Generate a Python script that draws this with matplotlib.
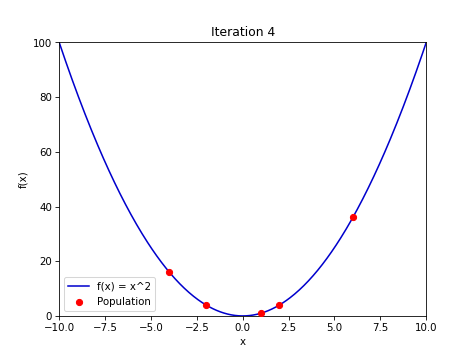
import matplotlib
matplotlib.use('Agg')
import matplotlib.pyplot as plt
import numpy as np

# population at iteration 4
pop_x = [-4, -2, 1, 2, 6]
pop_y = [16, 4, 1, 4, 36]

x = np.linspace(-10, 10, 400)
y = x ** 2

fig, ax = plt.subplots(figsize=(6.4, 4.8), dpi=74)
ax.plot(x, y, color='mediumblue', label='f(x) = x^2')
ax.scatter(pop_x, pop_y, color='red', zorder=3, label='Population')

ax.set_xlim(-10, 10)
ax.set_ylim(0, 100)
ax.set_title('Iteration 4')
ax.set_xlabel('x')
ax.set_ylabel('f(x)')
ax.legend(loc='lower left')

fig.savefig('out.png', dpi=74)
